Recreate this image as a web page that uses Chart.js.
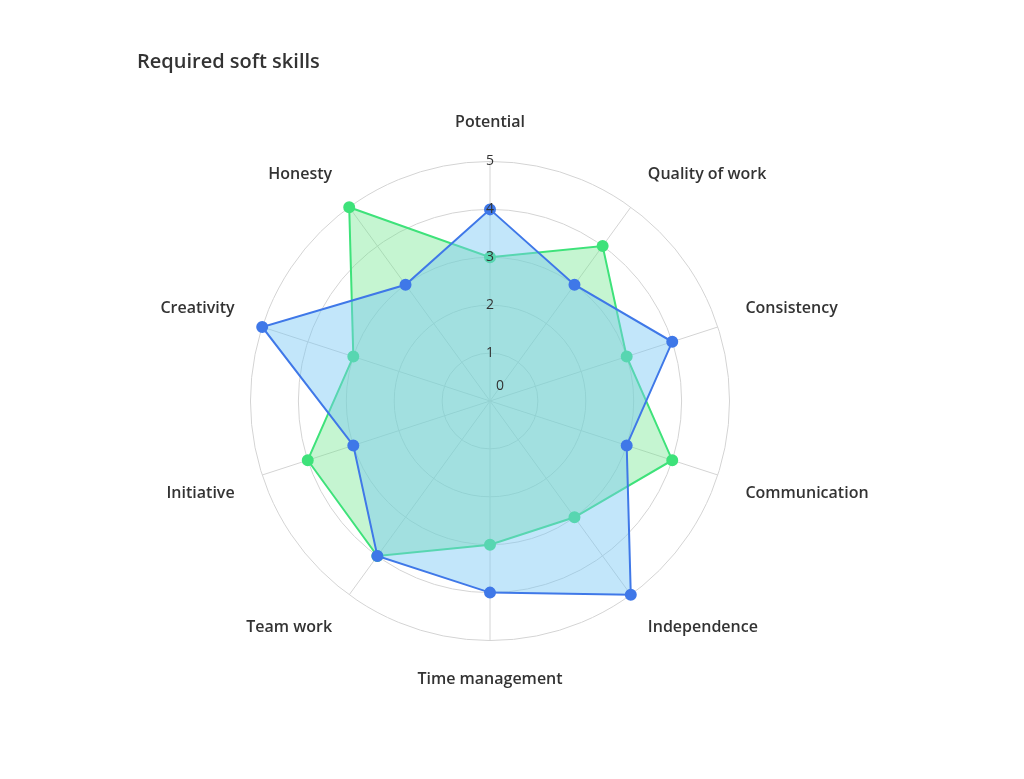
<!DOCTYPE html>
<html>
<head>
<meta charset="utf-8">
<script src="https://cdn.jsdelivr.net/npm/chart.js@4"></script>
<style>
  html, body { margin: 0; padding: 0; background: #fff; }
  #wrap { width: 1024px; height: 779px; }
</style>
</head>
<body>
<div id="wrap"><canvas id="radar"></canvas></div>
<script>
const skills = ["Potential", "Quality of work", "Consistency", "Communication", "Independence",
  "Time management", "Team work", "Initiative", "Creativity", "Honesty"];
const blueValues = [4, 3, 4, 3, 5, 4, 4, 3, 5, 3];
const greenValues = [3, 4, 3, 4, 3, 3, 4, 4, 3, 5];

Chart.defaults.font.family = "'Open Sans', sans-serif";

// Chart.js skips the "0" label on a radial scale, so draw it here
const zeroLabel = {
  id: "zeroLabel",
  afterDraw(chart) {
    const r = chart.scales.r;
    const ctx = chart.ctx;
    ctx.save();
    ctx.font = "14px 'Open Sans', sans-serif";
    ctx.fillStyle = "#333";
    ctx.textAlign = "center";
    ctx.textBaseline = "middle";
    ctx.fillText("0", r.xCenter + 10, r.yCenter - 15);
    ctx.restore();
  }
};

new Chart(document.getElementById("radar"), {
  type: "radar",
  data: {
    labels: skills,
    datasets: [{
      data: blueValues,
      borderColor: "#3f78e8",
      backgroundColor: "rgba(120,200,245,0.45)",
      pointBackgroundColor: "#3f78e8",
      pointBorderColor: "#3f78e8",
      pointRadius: 5,
      borderWidth: 2,
      fill: true
    }, {
      data: greenValues,
      borderColor: "#3ee27a",
      backgroundColor: "rgba(110,230,140,0.4)",
      pointBackgroundColor: "#3ee27a",
      pointBorderColor: "#3ee27a",
      pointRadius: 5,
      borderWidth: 2,
      fill: true
    }]
  },
  options: {
    responsive: true,
    maintainAspectRatio: false,
    animation: false,
    layout: { padding: { left: 137, right: 129, top: 50, bottom: 60 } },
    plugins: {
      legend: { display: false },
      title: {
        display: true,
        text: "Required soft skills",
        align: "start",
        color: "#333",
        font: { size: 20, weight: "600" },
        padding: { top: 0, bottom: 10 }
      }
    },
    scales: {
      r: {
        min: 0,
        max: 5,
        ticks: { stepSize: 1, z: 1, color: "#333", backdropColor: "transparent", font: { size: 14 } },
        grid: { color: "#d4d4d4", circular: true },
        angleLines: { color: "#d4d4d4" },
        pointLabels: { color: "#333", font: { size: 16, weight: "600" }, padding: 20 }
      }
    }
  },
  plugins: [zeroLabel]
});
</script>
</body>
</html>
